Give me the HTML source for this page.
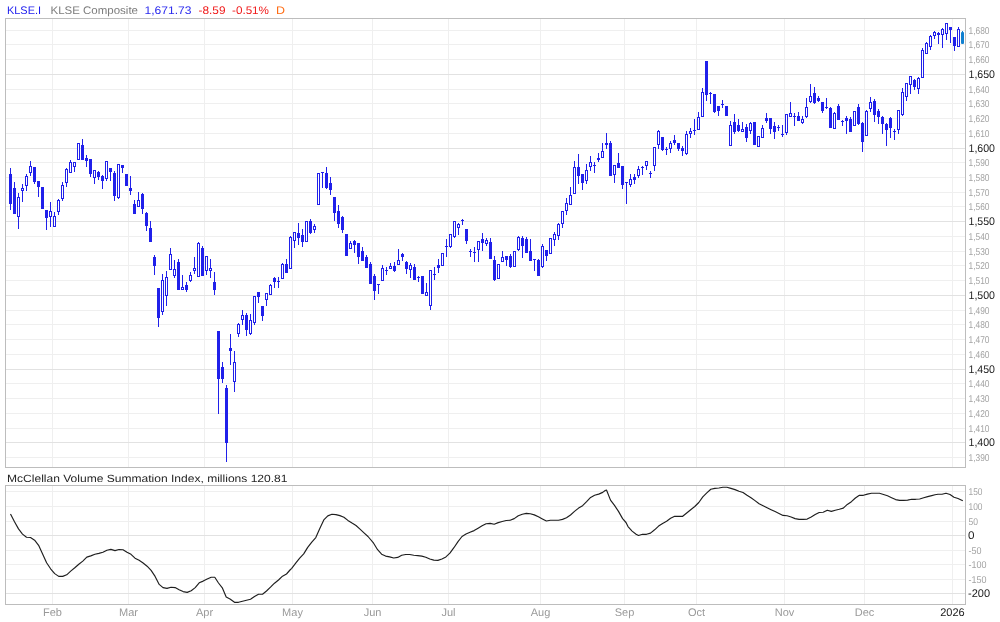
<!DOCTYPE html>
<html><head><meta charset="utf-8"><title>KLSE Composite</title>
<style>html,body{margin:0;padding:0;background:#fff;width:1000px;height:622px;overflow:hidden}</style>
</head><body>
<svg width="1000" height="622" viewBox="0 0 1000 622" style="display:block;will-change:transform"><rect x="0" y="0" width="1000" height="622" fill="#fff"/><path d="M52.5 18V467M128.5 18V467M204.5 18V467M292.5 18V467M372.5 18V467M448.5 18V467M540.5 18V467M624.5 18V467M696.5 18V467M784.5 18V467M864.5 18V467M952.5 18V467M52.5 485V604M128.5 485V604M204.5 485V604M292.5 485V604M372.5 485V604M448.5 485V604M540.5 485V604M624.5 485V604M696.5 485V604M784.5 485V604M864.5 485V604M952.5 485V604" stroke="#efefef" stroke-width="1" fill="none"/><path d="M5 457.5H965M5 428.5H965M5 413.5H965M5 398.5H965M5 383.5H965M5 354.5H965M5 339.5H965M5 324.5H965M5 310.5H965M5 280.5H965M5 265.5H965M5 251.5H965M5 236.5H965M5 206.5H965M5 192.5H965M5 177.5H965M5 162.5H965M5 133.5H965M5 118.5H965M5 103.5H965M5 89.5H965M5 59.5H965M5 44.5H965M5 30.5H965M5 491.5H965M5 506.5H965M5 521.5H965M5 550.5H965M5 564.5H965M5 579.5H965" stroke="#efefef" stroke-width="1" fill="none"/><path d="M5 442.5H965M5 369.5H965M5 295.5H965M5 221.5H965M5 148.5H965M5 74.5H965M5 535.5H965M5 593.5H965" stroke="#e2e2e2" stroke-width="1" fill="none"/><path d="M10.5 168V210M14.5 182V214M18.5 193V229M22.5 184V202M26.5 174V191M30.5 161V176M34.5 167V184M38.5 181V197M42.5 187V209M46.5 210V230M50.5 202V227M54.5 212V227M58.5 199V215M62.5 182V201M66.5 168V187M70.5 160V173M74.5 162V172M78.5 143V160M82.5 139V160M86.5 155V167M90.5 159V177M94.5 170V184M98.5 171V180M102.5 175V189M106.5 161V181M110.5 168V181M114.5 171V201M118.5 164V199M122.5 165V173M126.5 174V186M130.5 176V195M134.5 200V214M138.5 192V207M142.5 193V214M146.5 212V231M150.5 221V241M154.5 255V275M158.5 288V327M162.5 274V315M166.5 271V306M170.5 248V269M174.5 260V278M178.5 259V290M182.5 275V289M186.5 282V292M190.5 272V282M194.5 257V274M198.5 242V276M202.5 246V276M206.5 256V275M210.5 259V278M214.5 272V295M218.5 331V414M222.5 362V383M226.5 385V462M230.5 334V365M234.5 351V392M238.5 323V337M242.5 310V325M246.5 313V336M250.5 314V335M254.5 296V325M258.5 292V303M262.5 306V321M266.5 293V306M270.5 284V294M274.5 277V288M278.5 277V288M282.5 263V278M286.5 259V272M290.5 236V268M294.5 232V248M298.5 223V245M302.5 229V247M306.5 221V241M310.5 219V234M314.5 224V233M318.5 173V205M322.5 172V188M326.5 167V189M330.5 177V195M334.5 197V221M338.5 205V228M342.5 216V233M346.5 234V256M350.5 241V249M354.5 240V253M358.5 243V264M362.5 247V260M366.5 255V268M370.5 262V284M374.5 274V300M378.5 284V294M382.5 265V281M386.5 267V275M390.5 263V268M394.5 262V272M398.5 249V265M402.5 253V261M406.5 261V274M410.5 263V278M414.5 264V280M418.5 276V282M422.5 276V294M426.5 283V295M430.5 270V310M434.5 267V280M438.5 259V273M442.5 253V265M446.5 239V257M450.5 234V248M454.5 221V238M458.5 223V235M462.5 219V225M466.5 229V244M470.5 249V257M474.5 247V262M478.5 241V262M482.5 233V251M486.5 238V246M490.5 238V259M494.5 256V281M498.5 264V278M502.5 251V261M506.5 256V266M510.5 254V268M514.5 251V266M518.5 236V251M522.5 236V258M526.5 237V253M530.5 239V261M534.5 259V271M538.5 259V276M542.5 244V268M546.5 250V261M550.5 238V254M554.5 232V246M558.5 223V240M562.5 211V228M566.5 198V215M570.5 187V204M574.5 161V193M578.5 154V184M582.5 174V190M586.5 164V184M590.5 156V171M594.5 162V173M598.5 153V162M602.5 143V157M606.5 133V149M610.5 141V176M614.5 165V183M618.5 153V168M622.5 166V189M626.5 182V204M630.5 174V187M634.5 174V184M638.5 166V178M642.5 166V175M646.5 161V170M650.5 171V178M654.5 147V171M658.5 130V149M662.5 137V151M666.5 147V155M670.5 141V153M674.5 135V145M678.5 143V151M682.5 146V156M686.5 131V155M690.5 128V138M694.5 119V135M698.5 112V130M702.5 88V116M706.5 61V101M710.5 92V104M714.5 94V113M718.5 106V116M722.5 100V108M726.5 106V115M730.5 121V146M734.5 114V134M738.5 119V132M742.5 122V132M746.5 124V142M750.5 122V134M754.5 122V144M758.5 136V146M762.5 125V137M766.5 113V123M770.5 118V134M774.5 122V139M778.5 125V131M782.5 125V137M786.5 114V135M790.5 102V117M794.5 113V126M798.5 112V121M802.5 116V124M806.5 98V118M810.5 84V103M814.5 87V104M818.5 96V102M822.5 102V113M826.5 98V109M830.5 107V128M834.5 112V129M838.5 104V119M842.5 120V126M846.5 116V134M850.5 117V132M854.5 111V126M858.5 104V125M862.5 122V152M866.5 110V136M870.5 97V112M874.5 99V122M878.5 109V124M882.5 116V134M886.5 123V146M890.5 117V138M894.5 129V140M898.5 110V134M902.5 88V116M906.5 83V101M910.5 76V94M914.5 79V90M918.5 77V94M922.5 48V77M926.5 42V54M930.5 35V50M934.5 31V39M938.5 32V44M942.5 28V48M946.5 23V40M950.5 27V43M954.5 37V51M958.5 27V47" stroke="#2020ea" stroke-width="1" fill="none"/><path d="M9.0 174h3v30h-3zM13.0 188h3v26h-3zM33.0 167h3v15h-3zM37.0 181h3v6h-3zM41.0 187h3v22h-3zM45.0 210h3v8h-3zM81.0 145h3v15h-3zM85.0 158h3v3h-3zM89.0 159h3v15h-3zM97.0 172h3v5h-3zM101.0 176h3v5h-3zM109.0 168h3v4h-3zM113.0 173h3v23h-3zM121.0 165h3v3h-3zM125.0 174h3v12h-3zM129.0 188h3v3h-3zM133.0 204h3v10h-3zM141.0 194h3v15h-3zM145.0 213h3v13h-3zM149.0 228h3v14h-3zM153.0 257h3v9h-3zM157.0 288h3v30h-3zM177.0 262h3v28h-3zM185.0 285h3v5h-3zM201.0 248h3v28h-3zM213.0 282h3v8h-3zM217.0 331h3v48h-3zM221.0 367h3v12h-3zM225.0 388h3v55h-3zM229.0 348h3v3h-3zM245.0 315h3v15h-3zM257.0 292h3v5h-3zM261.0 306h3v10h-3zM273.0 278h3v4h-3zM277.0 281h3v1h-3zM285.0 264h3v9h-3zM297.0 233h3v5h-3zM301.0 235h3v7h-3zM309.0 221h3v12h-3zM321.0 172h3v1h-3zM325.0 173h3v15h-3zM329.0 183h3v7h-3zM333.0 197h3v16h-3zM337.0 211h3v13h-3zM341.0 217h3v13h-3zM345.0 234h3v22h-3zM353.0 241h3v4h-3zM357.0 243h3v14h-3zM361.0 251h3v10h-3zM365.0 257h3v11h-3zM369.0 264h3v20h-3zM373.0 276h3v15h-3zM377.0 284h3v1h-3zM385.0 270h3v1h-3zM393.0 266h3v5h-3zM401.0 254h3v3h-3zM405.0 262h3v7h-3zM413.0 267h3v13h-3zM417.0 277h3v1h-3zM421.0 276h3v18h-3zM433.0 274h3v1h-3zM437.0 265h3v3h-3zM445.0 246h3v1h-3zM461.0 220h3v1h-3zM465.0 229h3v12h-3zM469.0 251h3v1h-3zM473.0 252h3v1h-3zM481.0 239h3v4h-3zM489.0 242h3v17h-3zM493.0 260h3v20h-3zM505.0 256h3v4h-3zM509.0 256h3v11h-3zM521.0 238h3v8h-3zM525.0 239h3v14h-3zM529.0 251h3v10h-3zM533.0 259h3v1h-3zM537.0 260h3v16h-3zM545.0 250h3v6h-3zM577.0 167h3v9h-3zM581.0 174h3v9h-3zM593.0 165h3v1h-3zM597.0 158h3v2h-3zM605.0 143h3v2h-3zM609.0 143h3v33h-3zM617.0 163h3v5h-3zM621.0 166h3v19h-3zM625.0 182h3v1h-3zM633.0 177h3v3h-3zM641.0 167h3v1h-3zM649.0 173h3v1h-3zM661.0 137h3v13h-3zM665.0 149h3v1h-3zM673.0 140h3v3h-3zM677.0 143h3v6h-3zM681.0 148h3v3h-3zM693.0 130h3v1h-3zM705.0 61h3v34h-3zM709.0 93h3v1h-3zM713.0 94h3v18h-3zM717.0 106h3v5h-3zM721.0 104h3v1h-3zM725.0 106h3v10h-3zM733.0 122h3v10h-3zM737.0 125h3v6h-3zM745.0 127h3v11h-3zM753.0 122h3v23h-3zM765.0 118h3v3h-3zM769.0 118h3v11h-3zM773.0 126h3v6h-3zM777.0 127h3v1h-3zM781.0 134h3v1h-3zM793.0 116h3v1h-3zM797.0 116h3v5h-3zM813.0 93h3v10h-3zM817.0 98h3v3h-3zM821.0 102h3v9h-3zM825.0 107h3v1h-3zM829.0 108h3v20h-3zM837.0 106h3v14h-3zM841.0 121h3v1h-3zM845.0 118h3v3h-3zM849.0 119h3v13h-3zM857.0 107h3v17h-3zM861.0 123h3v19h-3zM873.0 101h3v14h-3zM877.0 111h3v6h-3zM881.0 117h3v7h-3zM885.0 124h3v6h-3zM889.0 118h3v10h-3zM893.0 131h3v1h-3zM913.0 80h3v7h-3zM937.0 33h3v2h-3zM949.0 27h3v3h-3zM953.0 37h3v9h-3z" fill="#2020ea"/><rect x="17.5" y="197.5" width="2" height="19" fill="#fff" stroke="#2020ea" stroke-width="1"/><rect x="21.5" y="188.5" width="2" height="2" fill="#fff" stroke="#2020ea" stroke-width="1"/><rect x="25.5" y="176.5" width="2" height="9" fill="#fff" stroke="#2020ea" stroke-width="1"/><rect x="29.5" y="166.5" width="2" height="6" fill="#fff" stroke="#2020ea" stroke-width="1"/><rect x="49.5" y="211.5" width="2" height="5" fill="#fff" stroke="#2020ea" stroke-width="1"/><rect x="53.5" y="216.5" width="2" height="10" fill="#fff" stroke="#2020ea" stroke-width="1"/><rect x="57.5" y="200.5" width="2" height="11" fill="#fff" stroke="#2020ea" stroke-width="1"/><rect x="61.5" y="185.5" width="2" height="13" fill="#fff" stroke="#2020ea" stroke-width="1"/><rect x="65.5" y="169.5" width="2" height="13" fill="#fff" stroke="#2020ea" stroke-width="1"/><rect x="69.5" y="162.5" width="2" height="10" fill="#fff" stroke="#2020ea" stroke-width="1"/><rect x="73.5" y="162.5" width="2" height="4" fill="#fff" stroke="#2020ea" stroke-width="1"/><rect x="77.5" y="143.5" width="2" height="16" fill="#fff" stroke="#2020ea" stroke-width="1"/><rect x="93.5" y="170.5" width="2" height="7" fill="#fff" stroke="#2020ea" stroke-width="1"/><rect x="105.5" y="161.5" width="2" height="17" fill="#fff" stroke="#2020ea" stroke-width="1"/><rect x="117.5" y="164.5" width="2" height="33" fill="#fff" stroke="#2020ea" stroke-width="1"/><rect x="137.5" y="200.5" width="2" height="6" fill="#fff" stroke="#2020ea" stroke-width="1"/><rect x="161.5" y="280.5" width="2" height="31" fill="#fff" stroke="#2020ea" stroke-width="1"/><rect x="165.5" y="277.5" width="2" height="18" fill="#fff" stroke="#2020ea" stroke-width="1"/><rect x="169.5" y="254.5" width="2" height="15" fill="#fff" stroke="#2020ea" stroke-width="1"/><rect x="173.5" y="269.5" width="2" height="6" fill="#fff" stroke="#2020ea" stroke-width="1"/><rect x="181.5" y="287.5" width="2" height="2" fill="#fff" stroke="#2020ea" stroke-width="1"/><rect x="189.5" y="275.5" width="2" height="5" fill="#fff" stroke="#2020ea" stroke-width="1"/><rect x="193.5" y="268.5" width="2" height="2" fill="#fff" stroke="#2020ea" stroke-width="1"/><rect x="197.5" y="243.5" width="2" height="33" fill="#fff" stroke="#2020ea" stroke-width="1"/><rect x="205.5" y="256.5" width="2" height="14" fill="#fff" stroke="#2020ea" stroke-width="1"/><rect x="209.5" y="268.5" width="2" height="2" fill="#fff" stroke="#2020ea" stroke-width="1"/><rect x="233.5" y="362.5" width="2" height="19" fill="#fff" stroke="#2020ea" stroke-width="1"/><rect x="237.5" y="324.5" width="2" height="9" fill="#fff" stroke="#2020ea" stroke-width="1"/><rect x="241.5" y="315.5" width="2" height="4" fill="#fff" stroke="#2020ea" stroke-width="1"/><rect x="249.5" y="320.5" width="2" height="13" fill="#fff" stroke="#2020ea" stroke-width="1"/><rect x="253.5" y="296.5" width="2" height="26" fill="#fff" stroke="#2020ea" stroke-width="1"/><rect x="265.5" y="293.5" width="2" height="6" fill="#fff" stroke="#2020ea" stroke-width="1"/><rect x="269.5" y="285.5" width="2" height="9" fill="#fff" stroke="#2020ea" stroke-width="1"/><rect x="281.5" y="264.5" width="2" height="14" fill="#fff" stroke="#2020ea" stroke-width="1"/><rect x="289.5" y="237.5" width="2" height="31" fill="#fff" stroke="#2020ea" stroke-width="1"/><rect x="293.5" y="232.5" width="2" height="8" fill="#fff" stroke="#2020ea" stroke-width="1"/><rect x="305.5" y="221.5" width="2" height="20" fill="#fff" stroke="#2020ea" stroke-width="1"/><rect x="313.5" y="226.5" width="2" height="3" fill="#fff" stroke="#2020ea" stroke-width="1"/><rect x="317.5" y="173.5" width="2" height="31" fill="#fff" stroke="#2020ea" stroke-width="1"/><rect x="349.5" y="243.5" width="2" height="5" fill="#fff" stroke="#2020ea" stroke-width="1"/><rect x="381.5" y="268.5" width="2" height="12" fill="#fff" stroke="#2020ea" stroke-width="1"/><rect x="389.5" y="266.5" width="2" height="2" fill="#fff" stroke="#2020ea" stroke-width="1"/><rect x="397.5" y="260.5" width="2" height="4" fill="#fff" stroke="#2020ea" stroke-width="1"/><rect x="409.5" y="265.5" width="2" height="4" fill="#fff" stroke="#2020ea" stroke-width="1"/><rect x="425.5" y="292.5" width="2" height="3" fill="#fff" stroke="#2020ea" stroke-width="1"/><rect x="429.5" y="270.5" width="2" height="35" fill="#fff" stroke="#2020ea" stroke-width="1"/><rect x="441.5" y="253.5" width="2" height="12" fill="#fff" stroke="#2020ea" stroke-width="1"/><rect x="449.5" y="234.5" width="2" height="12" fill="#fff" stroke="#2020ea" stroke-width="1"/><rect x="453.5" y="221.5" width="2" height="15" fill="#fff" stroke="#2020ea" stroke-width="1"/><rect x="457.5" y="224.5" width="2" height="3" fill="#fff" stroke="#2020ea" stroke-width="1"/><rect x="477.5" y="241.5" width="2" height="8" fill="#fff" stroke="#2020ea" stroke-width="1"/><rect x="485.5" y="240.5" width="2" height="3" fill="#fff" stroke="#2020ea" stroke-width="1"/><rect x="497.5" y="264.5" width="2" height="14" fill="#fff" stroke="#2020ea" stroke-width="1"/><rect x="501.5" y="257.5" width="2" height="4" fill="#fff" stroke="#2020ea" stroke-width="1"/><rect x="513.5" y="251.5" width="2" height="15" fill="#fff" stroke="#2020ea" stroke-width="1"/><rect x="517.5" y="237.5" width="2" height="12" fill="#fff" stroke="#2020ea" stroke-width="1"/><rect x="541.5" y="246.5" width="2" height="20" fill="#fff" stroke="#2020ea" stroke-width="1"/><rect x="549.5" y="238.5" width="2" height="15" fill="#fff" stroke="#2020ea" stroke-width="1"/><rect x="553.5" y="234.5" width="2" height="5" fill="#fff" stroke="#2020ea" stroke-width="1"/><rect x="557.5" y="224.5" width="2" height="11" fill="#fff" stroke="#2020ea" stroke-width="1"/><rect x="561.5" y="211.5" width="2" height="12" fill="#fff" stroke="#2020ea" stroke-width="1"/><rect x="565.5" y="203.5" width="2" height="7" fill="#fff" stroke="#2020ea" stroke-width="1"/><rect x="569.5" y="195.5" width="2" height="9" fill="#fff" stroke="#2020ea" stroke-width="1"/><rect x="573.5" y="167.5" width="2" height="26" fill="#fff" stroke="#2020ea" stroke-width="1"/><rect x="585.5" y="170.5" width="2" height="10" fill="#fff" stroke="#2020ea" stroke-width="1"/><rect x="589.5" y="162.5" width="2" height="4" fill="#fff" stroke="#2020ea" stroke-width="1"/><rect x="601.5" y="151.5" width="2" height="6" fill="#fff" stroke="#2020ea" stroke-width="1"/><rect x="613.5" y="165.5" width="2" height="9" fill="#fff" stroke="#2020ea" stroke-width="1"/><rect x="629.5" y="179.5" width="2" height="5" fill="#fff" stroke="#2020ea" stroke-width="1"/><rect x="637.5" y="169.5" width="2" height="6" fill="#fff" stroke="#2020ea" stroke-width="1"/><rect x="645.5" y="161.5" width="2" height="4" fill="#fff" stroke="#2020ea" stroke-width="1"/><rect x="653.5" y="147.5" width="2" height="18" fill="#fff" stroke="#2020ea" stroke-width="1"/><rect x="657.5" y="131.5" width="2" height="13" fill="#fff" stroke="#2020ea" stroke-width="1"/><rect x="669.5" y="143.5" width="2" height="5" fill="#fff" stroke="#2020ea" stroke-width="1"/><rect x="685.5" y="134.5" width="2" height="19" fill="#fff" stroke="#2020ea" stroke-width="1"/><rect x="689.5" y="131.5" width="2" height="2" fill="#fff" stroke="#2020ea" stroke-width="1"/><rect x="697.5" y="117.5" width="2" height="12" fill="#fff" stroke="#2020ea" stroke-width="1"/><rect x="701.5" y="92.5" width="2" height="24" fill="#fff" stroke="#2020ea" stroke-width="1"/><rect x="729.5" y="125.5" width="2" height="20" fill="#fff" stroke="#2020ea" stroke-width="1"/><rect x="741.5" y="129.5" width="2" height="2" fill="#fff" stroke="#2020ea" stroke-width="1"/><rect x="749.5" y="123.5" width="2" height="7" fill="#fff" stroke="#2020ea" stroke-width="1"/><rect x="757.5" y="136.5" width="2" height="10" fill="#fff" stroke="#2020ea" stroke-width="1"/><rect x="761.5" y="128.5" width="2" height="9" fill="#fff" stroke="#2020ea" stroke-width="1"/><rect x="785.5" y="114.5" width="2" height="18" fill="#fff" stroke="#2020ea" stroke-width="1"/><rect x="789.5" y="113.5" width="2" height="3" fill="#fff" stroke="#2020ea" stroke-width="1"/><rect x="801.5" y="119.5" width="2" height="3" fill="#fff" stroke="#2020ea" stroke-width="1"/><rect x="805.5" y="107.5" width="2" height="9" fill="#fff" stroke="#2020ea" stroke-width="1"/><rect x="809.5" y="96.5" width="2" height="5" fill="#fff" stroke="#2020ea" stroke-width="1"/><rect x="833.5" y="113.5" width="2" height="15" fill="#fff" stroke="#2020ea" stroke-width="1"/><rect x="853.5" y="111.5" width="2" height="14" fill="#fff" stroke="#2020ea" stroke-width="1"/><rect x="865.5" y="111.5" width="2" height="24" fill="#fff" stroke="#2020ea" stroke-width="1"/><rect x="869.5" y="102.5" width="2" height="6" fill="#fff" stroke="#2020ea" stroke-width="1"/><rect x="897.5" y="110.5" width="2" height="19" fill="#fff" stroke="#2020ea" stroke-width="1"/><rect x="901.5" y="92.5" width="2" height="22" fill="#fff" stroke="#2020ea" stroke-width="1"/><rect x="905.5" y="83.5" width="2" height="13" fill="#fff" stroke="#2020ea" stroke-width="1"/><rect x="909.5" y="76.5" width="2" height="8" fill="#fff" stroke="#2020ea" stroke-width="1"/><rect x="917.5" y="78.5" width="2" height="10" fill="#fff" stroke="#2020ea" stroke-width="1"/><rect x="921.5" y="50.5" width="2" height="27" fill="#fff" stroke="#2020ea" stroke-width="1"/><rect x="925.5" y="43.5" width="2" height="10" fill="#fff" stroke="#2020ea" stroke-width="1"/><rect x="929.5" y="36.5" width="2" height="10" fill="#fff" stroke="#2020ea" stroke-width="1"/><rect x="933.5" y="32.5" width="2" height="3" fill="#fff" stroke="#2020ea" stroke-width="1"/><rect x="941.5" y="29.5" width="2" height="5" fill="#fff" stroke="#2020ea" stroke-width="1"/><rect x="945.5" y="23.5" width="2" height="10" fill="#fff" stroke="#2020ea" stroke-width="1"/><rect x="957.5" y="29.5" width="2" height="17" fill="#fff" stroke="#2020ea" stroke-width="1"/><path d="M962.5 31V44" stroke="#1080d0" stroke-width="1"/><rect x="961.0" y="32" width="3" height="12" rx="1" fill="#1080d0"/><polyline points="10.5,514.1 14.5,521.7 18.5,528.9 22.5,534.1 26.5,537.3 30.5,537.5 34.6,540.2 38.6,545.3 42.6,553.9 46.6,562.7 50.6,568.8 54.7,573.6 58.7,576.4 62.7,576.4 66.7,574.8 70.7,571.1 74.8,567.8 78.8,564.3 82.8,561.1 86.8,557.1 90.8,555.9 94.9,554.3 98.9,553.4 102.9,552.3 106.9,550.2 110.9,549.4 115.0,550.6 119.0,549.5 123.0,549.8 127.0,552.3 131.0,554.3 135.0,558.2 139.1,560.3 143.1,563.0 147.1,566.2 151.1,570.4 155.1,576.4 159.2,584.4 163.0,587.6 167.0,588.4 171.1,587.3 175.1,587.6 179.1,589.7 183.1,591.6 187.2,592.4 191.2,590.8 195.2,587.6 199.2,582.8 203.2,581.1 207.2,579.0 211.2,577.2 214.8,577.2 218.5,583.0 222.5,588.2 226.2,597.0 230.0,599.0 234.5,602.3 238.5,602.3 242.5,601.2 246.5,600.2 250.5,599.2 254.5,596.5 258.5,594.2 262.5,594.2 266.5,591.0 270.5,587.2 274.5,583.2 278.5,580.0 282.5,576.2 286.5,574.0 290.0,570.0 291.7,568.3 295.7,563.2 299.7,558.2 303.7,553.9 307.7,547.4 311.8,542.1 315.8,537.6 319.8,528.4 323.8,519.9 327.8,515.9 331.9,514.3 335.9,514.6 339.9,515.6 343.9,517.2 347.9,520.4 352.0,523.1 356.0,525.5 360.0,529.1 364.0,532.8 368.0,536.5 373.6,543.2 377.6,549.7 381.6,554.2 385.6,556.1 389.6,556.9 393.7,558.0 397.7,557.4 401.7,555.3 405.7,554.5 409.7,554.5 413.8,555.3 417.8,555.6 421.8,556.1 425.8,557.2 429.8,559.0 433.8,560.1 437.9,560.4 441.9,559.0 445.9,556.9 449.9,553.2 453.9,547.7 458.0,541.6 462.0,536.5 466.0,534.1 470.0,532.3 474.1,530.6 478.1,528.2 482.1,525.8 486.1,523.7 490.1,523.4 494.2,524.2 498.2,522.6 502.2,521.5 506.2,520.5 510.2,520.2 514.2,518.6 518.3,515.7 522.3,514.2 526.3,513.4 530.3,513.8 534.3,514.9 538.4,516.7 542.4,518.9 546.4,521.0 550.4,520.2 554.4,520.2 558.5,520.2 562.5,519.4 566.5,517.8 570.5,515.0 574.5,511.4 578.6,508.1 582.6,505.7 586.6,501.7 590.6,497.4 594.6,495.3 598.7,494.1 602.7,492.4 605.2,490.5 606.5,490.0 610.5,500.1 614.5,505.4 618.5,511.4 622.6,518.6 626.0,522.5 628.0,526.6 632.1,531.1 636.1,534.3 638.5,535.5 642.5,534.3 646.5,534.3 650.5,533.1 654.6,529.8 658.6,526.1 662.6,523.4 666.6,521.3 670.6,518.3 674.7,516.3 678.7,516.3 682.7,516.3 686.7,513.0 690.7,509.7 694.8,506.5 698.8,502.5 702.8,496.9 706.8,492.9 710.8,489.3 714.9,488.4 718.9,488.0 722.9,487.2 726.9,487.2 730.9,488.4 735.0,489.6 739.0,491.3 743.0,492.5 747.0,495.3 751.0,497.7 755.0,500.6 759.1,503.8 763.1,505.7 767.1,507.7 771.1,509.7 775.1,511.6 779.0,513.4 783.0,515.4 787.1,515.7 791.1,517.0 795.1,518.6 799.1,519.4 803.1,519.4 807.2,519.1 811.2,517.0 815.2,514.6 819.2,512.5 823.2,512.2 827.3,510.2 831.3,511.4 835.3,510.2 839.3,509.3 843.3,508.1 847.3,504.4 851.4,501.7 855.4,498.0 859.4,495.3 863.4,495.3 867.4,494.1 871.5,493.2 875.5,493.2 879.5,493.3 883.5,494.5 887.5,495.8 891.6,497.7 895.6,499.6 899.6,500.4 903.6,500.4 907.6,500.1 911.7,499.3 915.7,499.3 919.7,499.0 923.7,497.7 927.7,496.6 931.8,495.6 935.0,494.8 938.0,494.2 942.0,494.2 946.0,493.2 950.0,494.5 954.0,497.2 958.0,498.5 962.8,500.8" fill="none" stroke="#1e1e1e" stroke-width="1.15" stroke-linejoin="round"/><rect x="5.5" y="18.5" width="960" height="449" fill="none" stroke="#bdbdbd" stroke-width="1"/><rect x="5.5" y="485.5" width="960" height="119" fill="none" stroke="#bdbdbd" stroke-width="1"/><g font-family='"Liberation Sans", sans-serif' style="text-rendering:geometricPrecision"><text x="7" y="14" font-size="11" fill="#1a1aee" text-anchor="start" textLength="34" lengthAdjust="spacingAndGlyphs">KLSE.I</text><text x="50.5" y="14" font-size="11" fill="#7c7c7c" text-anchor="start" textLength="87.5" lengthAdjust="spacingAndGlyphs">KLSE Composite</text><text x="144.5" y="14" font-size="11" fill="#2a2aee" text-anchor="start" textLength="47" lengthAdjust="spacingAndGlyphs">1,671.73</text><text x="198.5" y="14" font-size="11" fill="#f01818" text-anchor="start" textLength="27" lengthAdjust="spacingAndGlyphs">-8.59</text><text x="232" y="14" font-size="11" fill="#f01818" text-anchor="start" textLength="37" lengthAdjust="spacingAndGlyphs">-0.51%</text><text x="276" y="14" font-size="11" fill="#ff6a10" text-anchor="start" textLength="9" lengthAdjust="spacingAndGlyphs">D</text><text x="968.5" y="460.5" font-size="9.9" fill="#a4a4a4" text-anchor="start" textLength="21" lengthAdjust="spacingAndGlyphs">1,390</text><text x="968.5" y="445.5" font-size="11" fill="#222222" text-anchor="start" textLength="26.5" lengthAdjust="spacingAndGlyphs">1,400</text><text x="968.5" y="431.5" font-size="9.9" fill="#a4a4a4" text-anchor="start" textLength="21" lengthAdjust="spacingAndGlyphs">1,410</text><text x="968.5" y="416.5" font-size="9.9" fill="#a4a4a4" text-anchor="start" textLength="21" lengthAdjust="spacingAndGlyphs">1,420</text><text x="968.5" y="401.5" font-size="9.9" fill="#a4a4a4" text-anchor="start" textLength="21" lengthAdjust="spacingAndGlyphs">1,430</text><text x="968.5" y="386.5" font-size="9.9" fill="#a4a4a4" text-anchor="start" textLength="21" lengthAdjust="spacingAndGlyphs">1,440</text><text x="968.5" y="372.5" font-size="11" fill="#222222" text-anchor="start" textLength="26.5" lengthAdjust="spacingAndGlyphs">1,450</text><text x="968.5" y="357.5" font-size="9.9" fill="#a4a4a4" text-anchor="start" textLength="21" lengthAdjust="spacingAndGlyphs">1,460</text><text x="968.5" y="342.5" font-size="9.9" fill="#a4a4a4" text-anchor="start" textLength="21" lengthAdjust="spacingAndGlyphs">1,470</text><text x="968.5" y="327.5" font-size="9.9" fill="#a4a4a4" text-anchor="start" textLength="21" lengthAdjust="spacingAndGlyphs">1,480</text><text x="968.5" y="313.5" font-size="9.9" fill="#a4a4a4" text-anchor="start" textLength="21" lengthAdjust="spacingAndGlyphs">1,490</text><text x="968.5" y="298.5" font-size="11" fill="#222222" text-anchor="start" textLength="26.5" lengthAdjust="spacingAndGlyphs">1,500</text><text x="968.5" y="283.5" font-size="9.9" fill="#a4a4a4" text-anchor="start" textLength="21" lengthAdjust="spacingAndGlyphs">1,510</text><text x="968.5" y="268.5" font-size="9.9" fill="#a4a4a4" text-anchor="start" textLength="21" lengthAdjust="spacingAndGlyphs">1,520</text><text x="968.5" y="254.5" font-size="9.9" fill="#a4a4a4" text-anchor="start" textLength="21" lengthAdjust="spacingAndGlyphs">1,530</text><text x="968.5" y="239.5" font-size="9.9" fill="#a4a4a4" text-anchor="start" textLength="21" lengthAdjust="spacingAndGlyphs">1,540</text><text x="968.5" y="224.5" font-size="11" fill="#222222" text-anchor="start" textLength="26.5" lengthAdjust="spacingAndGlyphs">1,550</text><text x="968.5" y="209.5" font-size="9.9" fill="#a4a4a4" text-anchor="start" textLength="21" lengthAdjust="spacingAndGlyphs">1,560</text><text x="968.5" y="195.5" font-size="9.9" fill="#a4a4a4" text-anchor="start" textLength="21" lengthAdjust="spacingAndGlyphs">1,570</text><text x="968.5" y="180.5" font-size="9.9" fill="#a4a4a4" text-anchor="start" textLength="21" lengthAdjust="spacingAndGlyphs">1,580</text><text x="968.5" y="165.5" font-size="9.9" fill="#a4a4a4" text-anchor="start" textLength="21" lengthAdjust="spacingAndGlyphs">1,590</text><text x="968.5" y="151.5" font-size="11" fill="#222222" text-anchor="start" textLength="26.5" lengthAdjust="spacingAndGlyphs">1,600</text><text x="968.5" y="136.5" font-size="9.9" fill="#a4a4a4" text-anchor="start" textLength="21" lengthAdjust="spacingAndGlyphs">1,610</text><text x="968.5" y="121.5" font-size="9.9" fill="#a4a4a4" text-anchor="start" textLength="21" lengthAdjust="spacingAndGlyphs">1,620</text><text x="968.5" y="106.5" font-size="9.9" fill="#a4a4a4" text-anchor="start" textLength="21" lengthAdjust="spacingAndGlyphs">1,630</text><text x="968.5" y="92.5" font-size="9.9" fill="#a4a4a4" text-anchor="start" textLength="21" lengthAdjust="spacingAndGlyphs">1,640</text><text x="968.5" y="77.5" font-size="11" fill="#222222" text-anchor="start" textLength="26.5" lengthAdjust="spacingAndGlyphs">1,650</text><text x="968.5" y="62.5" font-size="9.9" fill="#a4a4a4" text-anchor="start" textLength="21" lengthAdjust="spacingAndGlyphs">1,660</text><text x="968.5" y="47.5" font-size="9.9" fill="#a4a4a4" text-anchor="start" textLength="21" lengthAdjust="spacingAndGlyphs">1,670</text><text x="968.5" y="33.5" font-size="9.9" fill="#a4a4a4" text-anchor="start" textLength="21" lengthAdjust="spacingAndGlyphs">1,680</text><text x="7" y="482" font-size="10.5" fill="#262626" text-anchor="start" textLength="280.5" lengthAdjust="spacingAndGlyphs">McClellan Volume Summation Index, millions 120.81</text><text x="968.5" y="494.7" font-size="9.8" fill="#a4a4a4" text-anchor="start" textLength="14" lengthAdjust="spacingAndGlyphs">150</text><text x="968.5" y="509.7" font-size="9.8" fill="#a4a4a4" text-anchor="start" textLength="14" lengthAdjust="spacingAndGlyphs">100</text><text x="968.5" y="524.7" font-size="9.8" fill="#a4a4a4" text-anchor="start" textLength="9.5" lengthAdjust="spacingAndGlyphs">50</text><text x="968" y="538.8" font-size="11" fill="#222222" text-anchor="start" textLength="6.5" lengthAdjust="spacingAndGlyphs">0</text><text x="968.5" y="553.7" font-size="9.8" fill="#a4a4a4" text-anchor="start" textLength="13" lengthAdjust="spacingAndGlyphs">-50</text><text x="968.5" y="567.7" font-size="9.8" fill="#a4a4a4" text-anchor="start" textLength="18" lengthAdjust="spacingAndGlyphs">-100</text><text x="968.5" y="582.7" font-size="9.8" fill="#a4a4a4" text-anchor="start" textLength="18" lengthAdjust="spacingAndGlyphs">-150</text><text x="968" y="596.8" font-size="11" fill="#222222" text-anchor="start" textLength="22" lengthAdjust="spacingAndGlyphs">-200</text><text x="52.5" y="616" font-size="11" fill="#999999" text-anchor="middle">Feb</text><text x="128.5" y="616" font-size="11" fill="#999999" text-anchor="middle">Mar</text><text x="204.5" y="616" font-size="11" fill="#999999" text-anchor="middle">Apr</text><text x="292.5" y="616" font-size="11" fill="#999999" text-anchor="middle">May</text><text x="372.5" y="616" font-size="11" fill="#999999" text-anchor="middle">Jun</text><text x="448.5" y="616" font-size="11" fill="#999999" text-anchor="middle">Jul</text><text x="540.5" y="616" font-size="11" fill="#999999" text-anchor="middle">Aug</text><text x="624.5" y="616" font-size="11" fill="#999999" text-anchor="middle">Sep</text><text x="696.5" y="616" font-size="11" fill="#999999" text-anchor="middle">Oct</text><text x="784.5" y="616" font-size="11" fill="#999999" text-anchor="middle">Nov</text><text x="864.5" y="616" font-size="11" fill="#999999" text-anchor="middle">Dec</text><text x="952.5" y="616" font-size="11" fill="#222222" text-anchor="middle">2026</text></g></svg>
</body></html>
